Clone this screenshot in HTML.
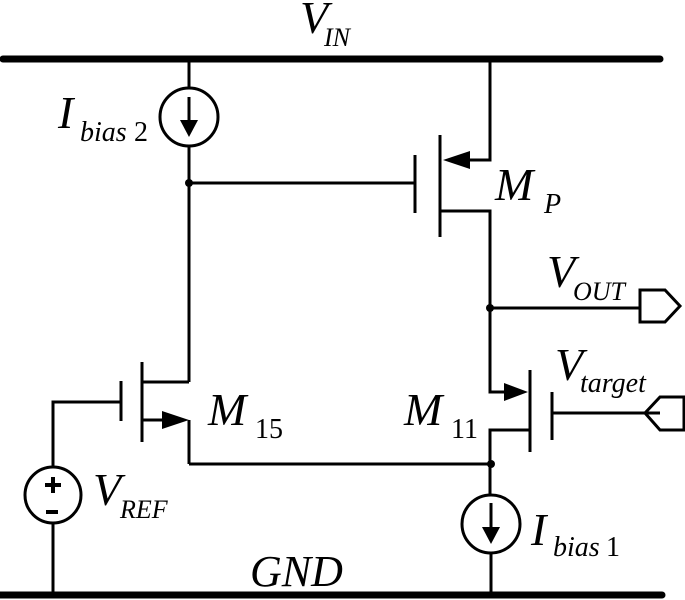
<!DOCTYPE html>
<html><head><meta charset="utf-8"><style>
html,body{margin:0;padding:0;background:#fff;width:685px;height:600px;overflow:hidden}
svg{display:block}
</style></head><body>
<svg width="685" height="600" viewBox="0 0 685 600" xmlns="http://www.w3.org/2000/svg">
<g stroke="#000" fill="none" stroke-width="3">
<line x1="3" y1="59" x2="660" y2="59" stroke-width="7" stroke-linecap="round"/>
<line x1="0" y1="595" x2="662" y2="595" stroke-width="7" stroke-linecap="round"/>
<line x1="189" y1="59" x2="189" y2="88"/>
<circle cx="189" cy="117" r="29"/>
<line x1="189" y1="97" x2="189" y2="125"/>
<line x1="189" y1="146" x2="189" y2="382"/>
<line x1="189" y1="183" x2="415" y2="183"/>
<line x1="415" y1="155" x2="415" y2="213"/>
<line x1="440" y1="135" x2="440" y2="237"/>
<polyline points="465,160 490,160 490,59"/>
<polyline points="440,211 490,211 490,392 512,392"/>
<line x1="490" y1="308" x2="640" y2="308"/>
<polygon points="640,290 665,290 680,306 665,322 640,322"/>
<line x1="530" y1="370" x2="530" y2="452"/>
<line x1="552" y1="392" x2="552" y2="440"/>
<line x1="552" y1="413" x2="660" y2="413"/>
<polygon points="660,397 684,397 684,430 660,430 645,413"/>
<polyline points="530,430 490,430 490,495"/>
<line x1="189" y1="464" x2="490" y2="464"/>
<circle cx="491" cy="524" r="29"/>
<line x1="491" y1="503" x2="491" y2="532"/>
<line x1="491" y1="553" x2="491" y2="595"/>
<polyline points="189,382 142,382"/>
<line x1="142" y1="362" x2="142" y2="442"/>
<line x1="121" y1="381" x2="121" y2="421"/>
<polyline points="121,402 53,402 53,467"/>
<polyline points="142,420 165,420"/>
<polyline points="189,420 189,464"/>
<circle cx="53" cy="495" r="28"/>
<line x1="53" y1="523" x2="53" y2="595"/>
</g>
<g fill="#000">
<polygon points="443,160 470,151 470,169"/>
<polygon points="528,392 504,383 504,401"/>
<polygon points="189,420 162,411 162,429"/>
<polygon points="189,137 180,120 198,120"/>
<polygon points="491,544 482,527 500,527"/>
<circle cx="189" cy="183" r="4"/>
<circle cx="490" cy="308" r="4"/>
<circle cx="491" cy="464" r="4"/>
<rect x="45" y="483" width="16" height="4"/><rect x="51" y="477" width="4" height="16"/>
<rect x="46" y="510" width="12" height="4"/>
</g>
<g style="font-family:'Liberation Serif','DejaVu Serif','Noto Serif CJK SC',serif" font-style="italic" fill="#000" font-size="46">
<text x="300" y="33">V</text><text x="324" y="46" font-size="26">IN</text>
<text x="58" y="128">I</text><text x="80" y="141" font-size="28">bias</text><text x="134" y="141" font-size="28" font-style="normal">2</text>
<text x="495" y="200">M</text><text x="544" y="213" font-size="28">P</text>
<text x="547" y="287">V</text><text x="573" y="300" font-size="26">OUT</text>
<text x="555" y="380">V</text><text x="580" y="392" font-size="28">target</text>
<text x="404" y="425">M</text><text x="451" y="438" font-size="28" font-style="normal">11</text>
<text x="208" y="425">M</text><text x="255" y="438" font-size="28" font-style="normal">15</text>
<text x="93" y="505">V</text><text x="120" y="518" font-size="26">REF</text>
<text x="531" y="545">I</text><text x="553" y="556" font-size="28">bias</text><text x="606" y="556" font-size="28" font-style="normal">1</text>
<text x="250" y="586" font-size="44">GND</text>
</g>
</svg>
</body></html>
